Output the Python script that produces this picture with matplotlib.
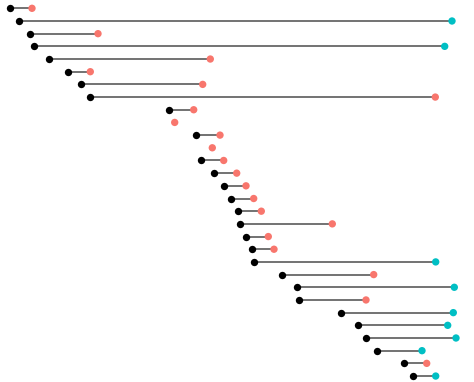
import numpy as np
import matplotlib
matplotlib.use('Agg')
import matplotlib.pyplot as plt

# subject rows, start time, end time, status at end
subject = np.arange(1, 31)
start = [9.7, 19, 30.3, 34, 49.3, 68, 81, 90.3, 169.3, 174.7,
         195.7, 212.3, 201, 214.3, 223.7, 231, 238.3, 240, 246, 251.7,
         253.7, 281.7, 296.7, 298.7, 340.7, 357.7, 366, 377, 404, 413]
end = [32, 452, 98, 444.7, 210.3, 90.3, 202.7, 435.3, 193.7, 174.7,
       220, 212.3, 223.7, 236.7, 246, 253.7, 261.3, 332.3, 268.3, 274,
       435.7, 373.7, 454.3, 366, 453.3, 447.7, 456, 422, 426.7, 435.7]
status = ['event', 'censored', 'event', 'censored', 'event', 'event', 'event', 'event', 'event', 'event',
          'event', 'event', 'event', 'event', 'event', 'event', 'event', 'event', 'event', 'event',
          'censored', 'event', 'censored', 'event', 'censored', 'censored', 'censored', 'censored', 'event', 'censored']

colors = {'event': '#F8766D', 'censored': '#00BFC4'}

start = np.array(start)
end = np.array(end)
has_span = end > start  # zero-length rows only show the end point

fig = plt.figure(figsize=(4.74, 3.82), dpi=100)
ax = fig.add_axes([0, 0, 1, 1])

ax.hlines(subject[has_span], start[has_span], end[has_span], color='#5a5a5a', linewidth=1.2, zorder=1)
ax.scatter(start[has_span], subject[has_span], s=28, color='black', zorder=2, linewidths=0)
ax.scatter(end, subject, s=28, color=[colors[s] for s in status], zorder=3, linewidths=0)

ax.set_xlim(0, 474)
ax.set_ylim(30.47, 0.345)
ax.axis('off')

fig.savefig('out.png', dpi=100)
